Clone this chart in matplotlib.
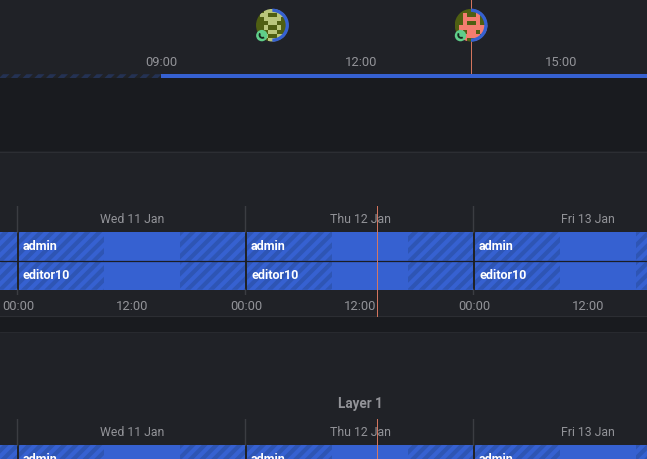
import numpy as np
import matplotlib
matplotlib.use("Agg")
import matplotlib.pyplot as plt
from matplotlib.colors import ListedColormap
from matplotlib.patches import Circle, Wedge, Polygon
from matplotlib.transforms import blended_transform_factory

plt.rcParams['font.family'] = ['Roboto', 'DejaVu Sans']

W, H = 647, 460
# ---------- data ----------
top_ticks = [9, 12, 15]
top_tick_labels = ['09:00', '12:00', '15:00']
top_window_start = 9
cursor_top = 13.65
avatar_hours = [10.67, 13.65]
day_starts = [-24, 0, 24, 48]
day_labels = ['', 'Wed 11 Jan', 'Thu 12 Jan', 'Fri 13 Jan']
lanes = ['admin', 'editor10']
office_start, office_end = 9, 17
cursor_low = 37.8
panel_tick_hours = [0, 12, 24, 36, 48, 60]
panel_tick_labels = ['00:00', '12:00', '00:00', '12:00', '00:00', '12:00']

A1 = [[0,0,1,1,1,1,0,0],
      [0,1,1,0,0,1,1,0],
      [0,0,1,1,1,1,0,0],
      [0,0,0,1,1,0,0,0],
      [0,0,1,0,0,1,0,0],
      [0,0,0,1,1,0,0,0],
      [0,1,1,0,0,1,1,0],
      [0,0,0,1,1,0,0,0]]
A2 = [[1,0,0,0,0,0,0,0],
      [0,0,1,0,0,1,0,0],
      [0,0,1,1,1,1,0,0],
      [0,0,1,0,0,1,0,0],
      [0,1,1,1,1,1,1,1],
      [0,1,0,1,1,0,1,1],
      [0,0,1,1,1,1,0,0],
      [0,0,1,0,0,1,0,0]]

# ---------- colours ----------
BG = '#202227'; BAND = '#191b1f'; LINE = '#2c2e33'
BLUE = '#3661d1'; STRIPE = '#2e55b4'; TXT = '#929398'; TICK = '#3b3d42'; CUR = '#d9785f'
fs = 12.2 * 0.72
fs_tick = 13 * 0.72
fs_lane = 12.5 * 0.72

fig = plt.figure(figsize=(W / 100, H / 100), dpi=100, facecolor=BG)

def px_axes(x0, ytop, x1, ybot, **kw):
    return fig.add_axes([x0 / W, 1 - ybot / H, (x1 - x0) / W, (ybot - ytop) / H], **kw)

# background
bg = px_axes(0, 0, W, H, zorder=0)
bg.axis('off')
bg.axhspan(79, 152, color=BAND, lw=0)
bg.axhspan(317, 333, color=BAND, lw=0)
bg.axhline(152.5, color=LINE, lw=0.8)
bg.axhline(316.5, color=LINE, lw=0.8)
bg.axhline(333, color=LINE, lw=0.5)
bg.set_xlim(0, W); bg.set_ylim(H, 0)

def add_stripes(ax, bar, x0, x1, y0, y1, color, step=11.7, width=5.8):
    """diagonal stripes in figure pixels, clipped to the bar"""
    hgt = y1 - y0
    start = x0 - ((x0 - 3) % step) - hgt - step
    tr = fig.transFigure
    x = start
    while x < x1 + hgt:
        pts = [(x, y1), (x + width, y1), (x + width + hgt, y0), (x + hgt, y0)]
        p = Polygon([(a / W, 1 - b / H) for a, b in pts], closed=True, transform=tr,
                    facecolor=color, edgecolor='none', zorder=bar.get_zorder() + 0.1)
        ax.add_artist(p)
        p.set_clip_path(bar)
        x += step

# top timeline
T0, T1 = 75.2, 79.4
ax = px_axes(0, T0, W, T1, zorder=2)
lo = top_window_start - 161 / (200 / 3)
hi = top_window_start + 486 / (200 / 3)
ax.patch.set_alpha(0)
for s in ax.spines.values():
    s.set_visible(False)
ax.yaxis.set_visible(False)
ax.xaxis.tick_top()
ax.set_xticks(top_ticks, top_tick_labels)
ax.tick_params(axis='x', length=0, pad=4.8, labelsize=fs_tick, labelcolor=TXT)
ax.barh(0.5, hi - top_window_start, left=top_window_start, height=1, color=BLUE, lw=0, zorder=2)
hb = ax.barh(0.5, top_window_start - lo, left=lo, height=1, color='none', lw=0, zorder=2)[0]
ax.set_xlim(lo, hi)
ax.set_ylim(0, 1)
add_stripes(ax, hb, 0, 161, T0, T1, '#243253', step=11.7, width=6.5)
tr_top = blended_transform_factory(ax.transData, fig.transFigure)
ax.plot([cursor_top] * 2, [1 - T0 / H, 1.0], transform=tr_top, color=CUR, lw=0.7, clip_on=False, zorder=1)
ax.set_xlim(lo, hi)

# state-timeline panels
def panel(ytop):
    y_bar0 = ytop + 25.9
    unit = 28.9
    ybot = ytop + 89
    a = px_axes(0, ytop, W, ybot, zorder=2)
    xl = (-18 / 9.5, (W - 18) / 9.5)
    yl = ((ybot - y_bar0) / unit - 0.5, (ytop - y_bar0) / unit - 0.5)
    a.patch.set_alpha(0)
    for s in a.spines.values():
        s.set_visible(False)
    a.yaxis.set_visible(False)
    a.set_xticks(panel_tick_hours, panel_tick_labels)
    a.tick_params(axis='x', length=0, pad=2.8, labelsize=fs_tick, labelcolor=TXT)
    inset = 1.3 / 9.5
    tt = blended_transform_factory(a.transData, a.transAxes)
    for d, lab in zip(day_starts, day_labels):
        if d >= 0:
            dv = d - 0.8 / 9.5
            a.plot([dv, dv], [0, 6 / 89], transform=tt, color=TICK, lw=1, zorder=1)
            a.plot([dv, dv], [63 / 89, 1], transform=tt, color=TICK, lw=1, zorder=1)
            a.text(d + 12, (ytop + 12.6 - y_bar0) / unit - 0.5, lab, ha='center', va='center',
                   fontsize=fs, color=TXT)
        for i, name in enumerate(lanes):
            segs = [(d + inset, d + office_start, True),
                    (d + office_start, d + office_end, False),
                    (d + office_end, d + 24 - inset, True)]
            for s0, s1, hatch in segs:
                b = a.barh(i, s1 - s0, left=s0, height=1.0, color=BLUE, lw=0, zorder=3)[0]
                if hatch:
                    x0 = 18 + s0 * 9.5; x1 = 18 + s1 * 9.5
                    if x1 > 0 and x0 < W:
                        add_stripes(a, b, x0, x1, y_bar0 + i * unit, y_bar0 + (i + 1) * unit, STRIPE)
            if d >= 0:
                a.text(d + 5 / 9.5, i - 0.03, name, va='center', ha='left', fontsize=fs_lane,
                       fontweight='bold', color='white', zorder=5)
    a.axhline(0.5, color='#1b1d24', lw=0.9, zorder=4)
    a.set_xlim(*xl); a.set_ylim(*yl)
    return a, tt, xl, yl

a2, t2, xl2, yl2 = panel(207)
a2.plot([cursor_low] * 2, [-(317 - 296) / 89, 1], transform=t2, color=CUR, lw=0.7, clip_on=False, zorder=6)
a2.set_xlim(*xl2); a2.set_ylim(*yl2)
a3, t3, xl3, yl3 = panel(420)
a3.plot([cursor_low] * 2, [0, 1], transform=t3, color=CUR, lw=0.7, zorder=6)
a3.set_xlim(*xl3); a3.set_ylim(*yl3)
a3.tick_params(axis='x', labelbottom=False)

# overlay: title and avatars
ov = px_axes(0, 0, W, H, zorder=5)
ov.patch.set_alpha(0)
ov.axis('off')
ov.text(360, 404.5, 'Layer 1', ha='center', va='center', fontsize=13.5 * 0.72, fontweight='bold', color=TXT)

def avatar(cx, pattern, light):
    dark = '#4f5f12'
    r = 16.3
    cy = 26.2
    im = ov.imshow(np.array(pattern), cmap=ListedColormap([dark, light]), vmin=0, vmax=1,
                   extent=(cx - r, cx + r, cy + r, cy - r), interpolation='nearest', zorder=2)
    im.set_clip_path(Circle((cx, cy), r, transform=ov.transData))
    ov.add_patch(Wedge((cx, cy), r + 0.3, -90, 90, width=3.3, color=BLUE, lw=0, zorder=3))
    bx, by = cx - 10.5, 36.6
    ov.add_patch(Circle((bx, by), 5.7, color='#5fce8a', lw=0, zorder=4))
    ov.add_patch(Wedge((bx + 0.6, by - 0.6), 3.8, 55, 215, width=1.9, color='#16281d', lw=0, zorder=5))

for h, pat, col in zip(avatar_hours, [A1, A2], ['#b9c67c', '#f47d70']):
    xpx = ax.transData.transform((h, 0))[0]
    avatar(xpx, pat, col)
ov.set_xlim(0, W); ov.set_ylim(H, 0); ov.set_aspect('auto')

fig.savefig('out.png', dpi=100, facecolor=BG)
